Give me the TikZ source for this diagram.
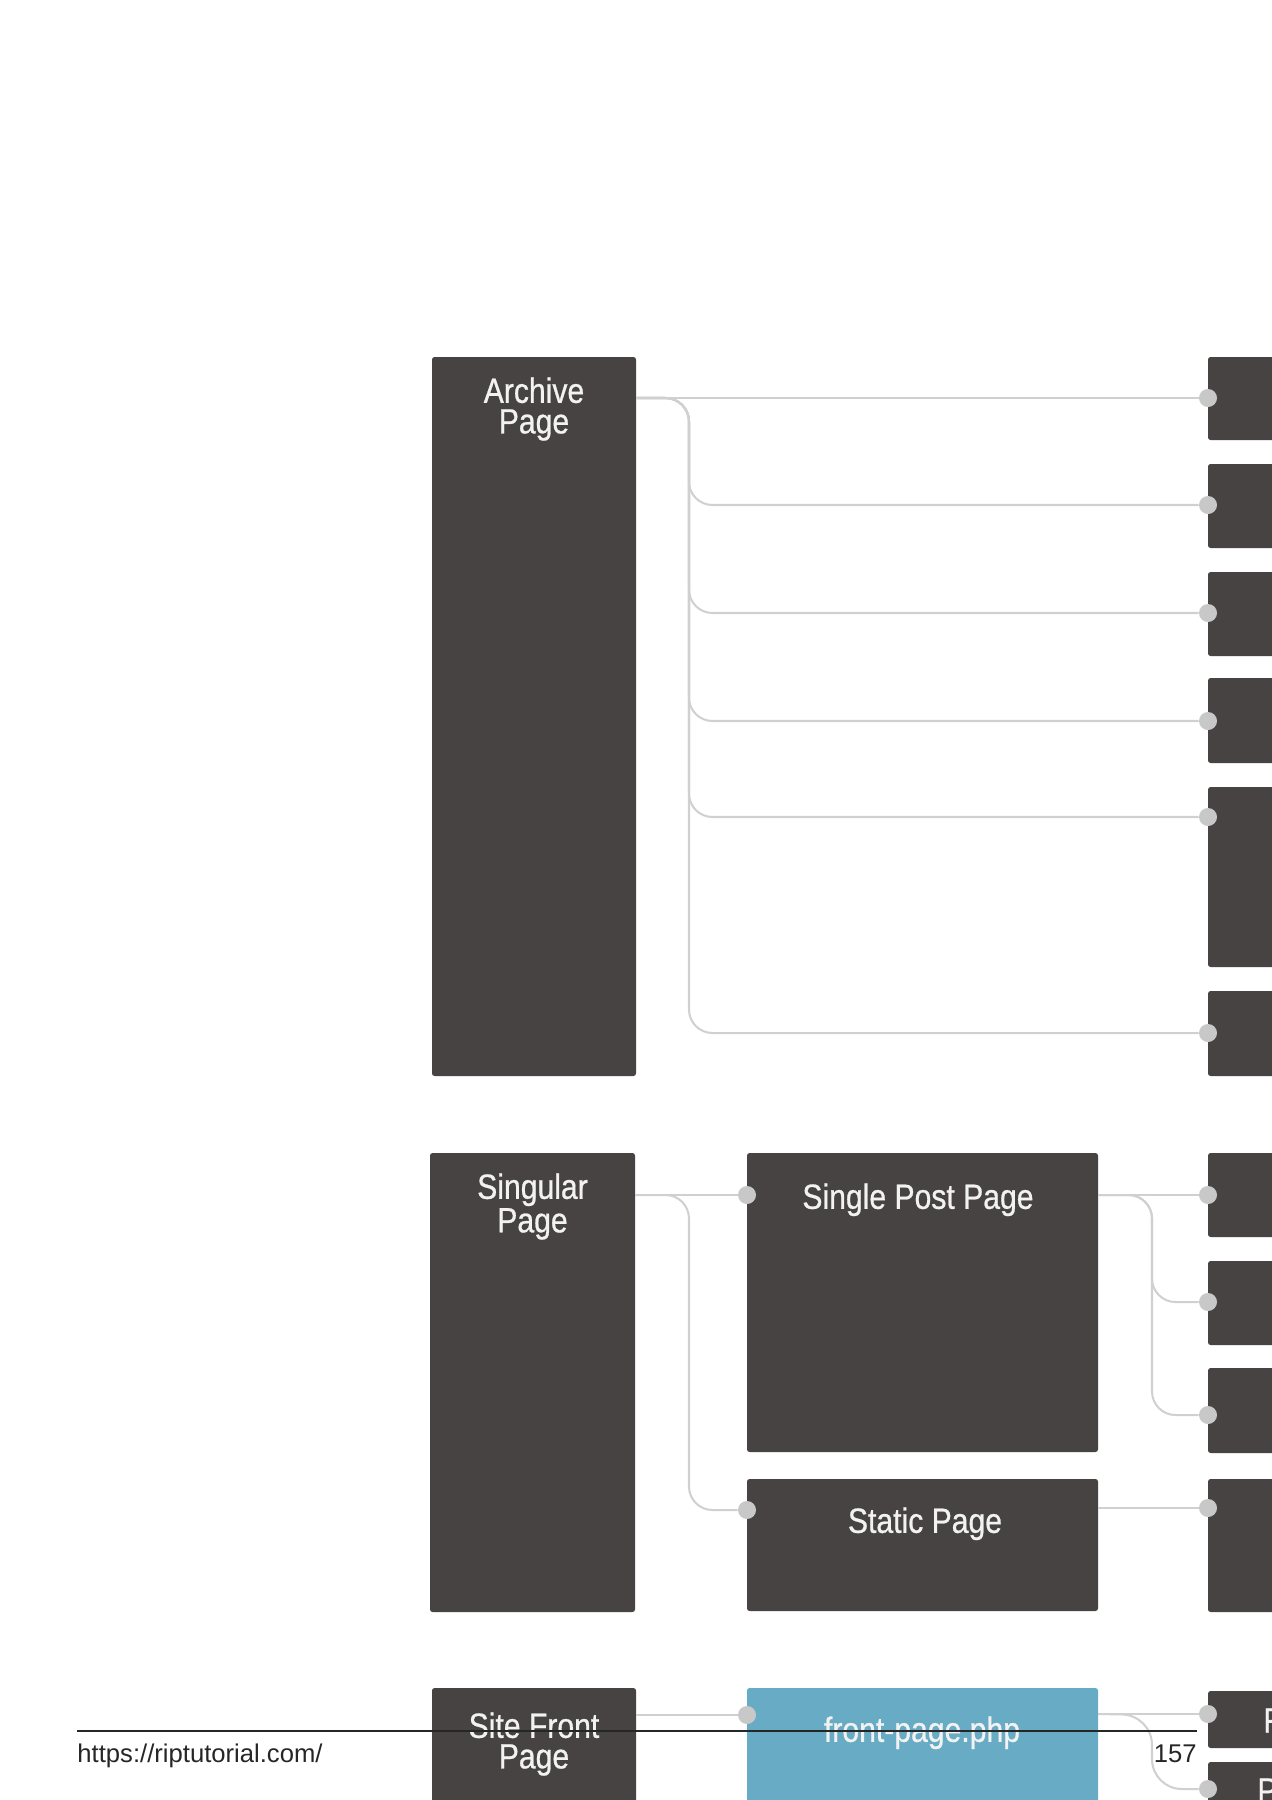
\documentclass[tikz,border=0pt]{standalone}
\usepackage{fontspec}
\newfontfamily\boxfont[FakeStretch=0.86,FakeBold=0.7]{Liberation Sans}
\newfontfamily\footfont{Liberation Sans}
\newcommand\pxu{0.468pt}

\definecolor{boxgray}{RGB}{71,67,66}
\definecolor{fpblue}{RGB}{103,171,197}
\definecolor{pingray}{RGB}{200,200,200}
\definecolor{linkgray}{RGB}{208,208,208}
\definecolor{boxwhite}{RGB}{242,242,242}

\tikzset{
  tbox/.style={fill=boxgray,rounded corners=1.2pt,inner sep=0pt,outer sep=0pt},
  ttext/.style={anchor=north,inner sep=0pt,align=center,text=boxwhite,
    font=\boxfont\fontsize{16.4}{14.3}\selectfont},
  pin/.style={circle,fill=pingray,minimum size=18*\pxu,inner sep=0pt},
  link/.style={draw=linkgray,line width=0.95pt,rounded corners=11pt},
}

\begin{document}
\begin{tikzpicture}[x=\pxu,y=-\pxu]
\useasboundingbox (0,0) rectangle (1272,1800);
\clip (0,0) rectangle (1272,1800);

% archive
\draw (534,716.5) node(ARCH)[tbox,minimum width=204*\pxu,minimum height=719*\pxu]{};
\draw (1269,398.5) node(AR1)[tbox,minimum width=122*\pxu,minimum height=83*\pxu]{};
\draw (1269,506) node(AR2)[tbox,minimum width=122*\pxu,minimum height=84*\pxu]{};
\draw (1269,614) node(AR3)[tbox,minimum width=122*\pxu,minimum height=84*\pxu]{};
\draw (1269,720.5) node(AR4)[tbox,minimum width=122*\pxu,minimum height=85*\pxu]{};
\draw (1269,877) node(AR5)[tbox,minimum width=122*\pxu,minimum height=180*\pxu]{};
\draw (1269,1033.5) node(AR6)[tbox,minimum width=122*\pxu,minimum height=85*\pxu]{};
\draw (534,377) node(ARCHT)[ttext]{Archive\\Page};

\draw (1208,398) node(AP1)[pin]{};
\draw (1208,505) node(AP2)[pin]{};
\draw (1208,613) node(AP3)[pin]{};
\draw (1208,721) node(AP4)[pin]{};
\draw (1208,817) node(AP5)[pin]{};
\draw (1208,1033) node(AP6)[pin]{};
\coordinate (AB) at (689,398);

\draw[link] (ARCH.east |- AP1) -- (AP1);
\foreach \p in {AP2,AP3,AP4,AP5,AP6}
  \draw[link] (ARCH.east |- AP1) -- (AB) |- (\p);

% singular
\draw (532.5,1382.5) node(SING)[tbox,minimum width=205*\pxu,minimum height=459*\pxu]{};
\draw (922.5,1302.5) node(SPP)[tbox,minimum width=351*\pxu,minimum height=299*\pxu]{};
\draw (922.5,1545) node(STAT)[tbox,minimum width=351*\pxu,minimum height=132*\pxu]{};
\draw (1269,1195) node(SR1)[tbox,minimum width=122*\pxu,minimum height=84*\pxu]{};
\draw (1269,1303) node(SR2)[tbox,minimum width=122*\pxu,minimum height=84*\pxu]{};
\draw (1269,1410.5) node(SR3)[tbox,minimum width=122*\pxu,minimum height=85*\pxu]{};
\draw (1269,1545.5) node(SR4)[tbox,minimum width=122*\pxu,minimum height=133*\pxu]{};
\draw (532.5,1173) node(SINGT)[ttext]{Singular\\Page};
\draw (918,1183) node(SPPT)[ttext]{Single Post Page};
\draw (925,1507) node(STATT)[ttext]{Static Page};

\draw (747,1195) node(SP1)[pin]{};
\draw (747,1510) node(SP2)[pin]{};
\draw (1208,1195) node(SRP1)[pin]{};
\draw (1208,1302) node(SRP2)[pin]{};
\draw (1208,1415) node(SRP3)[pin]{};
\draw (1208,1508) node(SRP4)[pin]{};
\coordinate (SB) at (689,1195);
\coordinate (PB) at (1152,1195);

\draw[link] (SING.east |- SP1) -- (SP1);
\draw[link] (SING.east |- SP1) -- (SB) |- (SP2);
\draw[link] (SPP.east |- SRP1) -- (SRP1);
\draw[link] (SPP.east |- SRP1) -- (PB) |- (SRP2);
\draw[link] (SPP.east |- SRP1) -- (PB) |- (SRP3);
\draw[link] (STAT.east |- SRP4) -- (SRP4);

% front page
\draw (534,1754) node(SFP)[tbox,minimum width=204*\pxu,minimum height=132*\pxu]{};
\draw (922.5,1754) node(FPP)[tbox,fill=fpblue,minimum width=351*\pxu,minimum height=132*\pxu]{};
\draw (1269,1719.5) node(FR1)[tbox,minimum width=122*\pxu,minimum height=57*\pxu]{};
\draw (1269,1791) node(FR2)[tbox,minimum width=122*\pxu,minimum height=58*\pxu]{};
\draw (534,1712) node(SFPT)[ttext]{Site Front\\Page};
\draw (922,1716) node(FPPT)[ttext]{front-page.php};
\draw (1263,1708) node(FR1T)[ttext,anchor=north west]{F};
\draw (1257,1778) node(FR2T)[ttext,anchor=north west]{P};

\draw (747,1715) node(FP1)[pin]{};
\draw (1208,1714) node(FRP1)[pin]{};
\draw (1208,1789) node(FRP2)[pin]{};
\coordinate (FB) at (1152,1715);

\draw[link] (SFP.east |- FP1) -- (FP1);
\draw[link] (FPP.east |- FRP1) -- (FRP1);
\draw[link,rounded corners=14pt] (FPP.east |- FRP1) -- (FB) |- (FRP2);

% footer
\draw[line width=0.5pt,black!85] (77,1731) -- (1197,1731);
\draw (77,1762) node(URL)[anchor=base west,inner sep=0pt,font=\footfont\fontsize{12}{14}\selectfont,text=black!85]{https://riptutorial.com/};
\draw (1197,1762) node(PAGE)[anchor=base east,inner sep=0pt,font=\footfont\fontsize{12}{14}\selectfont,text=black!85]{157};

\end{tikzpicture}
\end{document}
